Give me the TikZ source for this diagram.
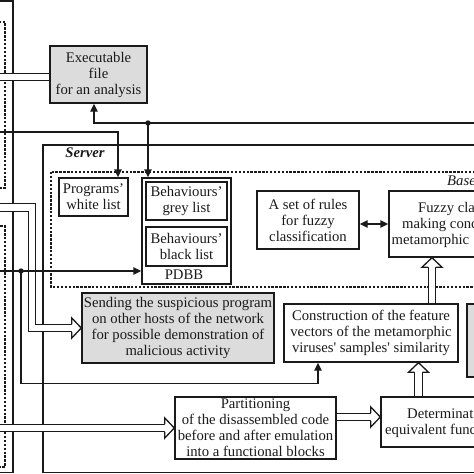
\documentclass[tikz,border=0pt]{standalone}
\usepackage{fontspec}
\setmainfont{Liberation Serif}
\usetikzlibrary{arrows.meta,calc}
\definecolor{boxgray}{HTML}{DCDCDC}
\definecolor{ink}{HTML}{1A1A1A}
\begin{document}
\begin{tikzpicture}[x=1pt,y=-1pt,
  every node/.style={font=\fontsize{14.7}{16}\selectfont, text=ink},
  box/.style={draw=ink, line width=1.4pt, inner sep=0pt, align=center},
  ln/.style={draw=ink, line width=1.4pt},
  dotln/.style={draw=ink, line width=1.3pt, dash pattern=on 2.4pt off 1.5pt},
  heavy/.style={draw=ink, line width=1.7pt},
  dbl/.style={draw=ink, line width=1.3pt, double=white, double distance=6.3pt},
  arr/.style={ln, -{Triangle[length=8pt,width=7.5pt]}},
  frag/.style={anchor=base west, inner sep=0pt},
  hhead/.pic={
    \fill[white] (-9.5,-10) -- (0,0) -- (-9.5,10) -- cycle;
    \draw[draw=ink, line width=1.3pt, line join=miter, miter limit=10]
      (-9.5,-3.8) -- (-9.5,-10) -- (0,0) -- (-9.5,10) -- (-9.5,3.8);
  }
]
\useasboundingbox (0,0) rectangle (474,474);
\clip (0,0) rectangle (474,474);

% frames
\draw[ln] (-10,1) rectangle (13,472.5);
\draw[dotln] (-10,22) rectangle (5,188);
\draw[dotln] (-10,226) rectangle (5,467);
\draw[heavy] (43,145) rectangle (540,472.5);
\draw[dotln] (51,172) rectangle (540,287);
\node[font=\fontsize{14.7}{16}\selectfont\bfseries\itshape] (srv) at (85,153) {Server};
\node[frag, font=\fontsize{14.7}{16}\selectfont\itshape] (base) at (447,185) {Base};

% nodes
\node[box, fill=boxgray, minimum width=97, minimum height=57] (exec) at (98.5,74.5) {Executable\\file\\for an analysis};
\node[box, minimum width=69, minimum height=38] (white) at (93.5,197) {Programs’\\white list};
\node[box, minimum width=89, minimum height=106] (pdbb) at (186.5,231) {};
\node[box, minimum width=81, minimum height=38] (grey) at (186.5,201) {Behaviours’\\grey list};
\node[box, minimum width=81, minimum height=39] (black) at (186.5,246.5) {Behaviours’\\black list};
\node (pdbblbl) at (184,275) {PDBB};
\node[box, minimum width=102, minimum height=58] (rules) at (308,220) {A set of rules\\for fuzzy\\classification};
\node[box, minimum width=151, minimum height=66] (fuzzy) at (464.5,224) {};
\node[frag] (fz1) at (418,212) {Fuzzy cla};
\node[frag] (fz2) at (402,228) {making conc};
\node[frag] (fz3) at (391.5,244) {metamorphic};
\node[box, fill=boxgray, minimum width=192, minimum height=70] (sending) at (178,328) {Sending the suspicious program\\on other hosts of the network\\for possible demonstration of\\malicious activity};
\node[box, minimum width=174, minimum height=58] (constr) at (371,333) {Construction of the feature\\vectors of the metamorphic\\viruses\textquotesingle{} samples\textquotesingle{} similarity};
\node[box, fill=boxgray, minimum width=73, minimum height=73] (grayR) at (503.5,340.5) {};
\node[box, minimum width=161, minimum height=62] (part) at (255.5,428) {Partitioning\\of the disassembled code\\before and after emulation\\into a functional blocks};
\node[box, minimum width=159, minimum height=50] (det) at (460.5,422) {};
\node[frag] (dt1) at (407,418) {Determinat};
\node[frag] (dt2) at (385,434) {equivalent func};

% hollow (double) arrows
\draw[dbl] (-5,77) -- (exec.west |- 0,77);
\draw[dbl] (-5,207.5) -- (32,207.5) -- (32,328) -- ($(sending.west)+(-9.5,0)$);
\pic at (sending.west) {hhead};
\draw[dbl] (-5,428) -- ($(part.west)+(-9.5,0)$);
\pic at (part.west) {hhead};
\coordinate (pdtip) at (det.west |- 0,417);
\draw[dbl] (part.east |- pdtip) -- ($(pdtip)+(-9.5,0)$);
\pic at (pdtip) {hhead};
\coordinate (dctip) at (constr.south -| 418.5,0);
\draw[dbl] (det.north -| dctip) -- ($(dctip)+(0,9.5)$);
\pic[rotate=90] at (dctip) {hhead};
\coordinate (cftip) at (fuzzy.south -| 432,0);
\draw[dbl] (constr.north -| cftip) -- ($(cftip)+(0,9.5)$);
\pic[rotate=90] at (cftip) {hhead};

% thin connectors
\coordinate (rin) at (480,123);
\draw[arr] (rin) -- (94,123) -- (exec.south -| 94,0);
\coordinate (d1) at (148,123);
\fill[ink] (d1) circle[radius=2.7pt];
\draw[arr] (d1) -- (pdbb.north -| d1);
\coordinate (lin1) at (-5,132);
\draw[arr] (lin1) -- (118,132) -- (white.north -| 118,0);
\coordinate (lin2) at (-5,271);
\draw[arr] (lin2) -- (pdbb.west |- lin2);
\coordinate (d2) at (21,271);
\fill[ink] (d2) circle[radius=2.7pt];
\draw[arr] (d2) -- (21,383.5) -- (318,383.5) -- (constr.south -| 318,0);
\draw[ln, {Triangle[length=8pt,width=7.5pt]}-{Triangle[length=8pt,width=7.5pt]}] (rules.east |- 0,224) -- (fuzzy.west |- 0,224);
\end{tikzpicture}
\end{document}
